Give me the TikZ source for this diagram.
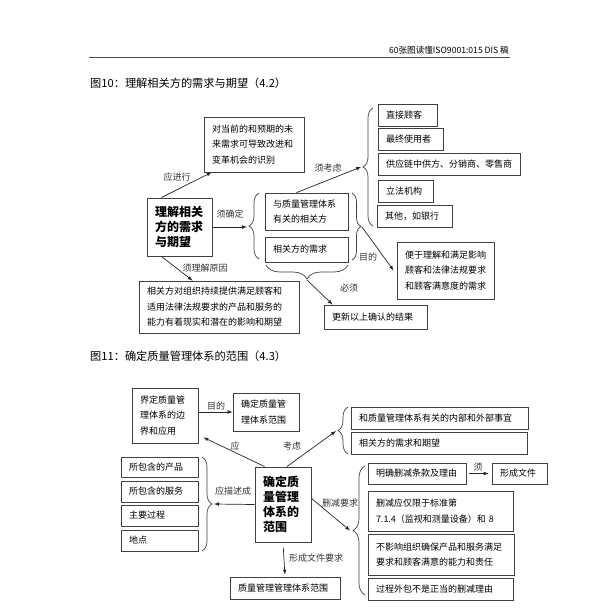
\documentclass[tikz,border=0pt]{standalone}
\usepackage{fontspec}
\setmainfont{Noto Sans CJK SC}
\usetikzlibrary{decorations.pathreplacing}

\tikzset{
  box/.style={draw=black!75, line width=0.8pt, inner xsep=8pt, inner ysep=0pt,
    align=left, font=\fontsize{9}{15.5}\selectfont},
  hub/.style={box, line width=1pt, font=\fontsize{12}{15}\selectfont\bfseries},
  lbl/.style={inner sep=0pt, font=\fontsize{9}{11}\selectfont, text=black!80},
  arr/.style={-latex, line width=0.7pt, draw=black!85},
  brc/.style={decorate, decoration={brace, amplitude=#1}, line width=0.7pt, draw=black!75},
  brc/.default=8pt,
}

\begin{document}
\begin{tikzpicture}[x=1pt, y=-1pt]
  \useasboundingbox (0,0) rectangle (600,616);

  % page head
  \node[anchor=base east, inner sep=0pt, font=\fontsize{8.6}{9}\selectfont] (head) at (509,53) {60张图读懂ISO9001:015 DIS 稿};
  \draw[line width=0.8pt, black!70] (89,57) -- (510,57);

  % figure 10
  \node[anchor=base west, inner sep=0pt, font=\fontsize{11.2}{12}\selectfont] (title10) at (90,87) {图10：理解相关方的需求与期望（4.2）};

  \node[hub, text width=49pt, minimum height=58pt] (center10) at (179.5,227) {理解相关\\方的需求\\与期望};
  \node[box, text width=84pt, minimum height=55pt] (need) at (254,144.5) {对当前的和预期的未\\来需求可导致改进和\\变革机会的识别};
  \node[box, text width=67pt, minimum height=37pt] (party) at (306.5,211.5) {与质量管理体系\\有关的相关方};
  \node[box, text width=67pt, minimum height=25pt] (needs) at (306.5,249.5) {相关方的需求};
  \node[box, text width=81pt, minimum height=57pt] (purpose) at (445.5,270.5) {便于理解和满足影响\\顾客和法律法规要求\\和顾客满意度的需求};
  \node[box, text width=87pt, minimum height=24pt] (update) at (375.5,317) {更新以上确认的结果};
  \node[box, text width=144pt, minimum height=52pt] (reason) at (219,307) {相关方对组织持续提供满足顾客和\\适用法律法规要求的产品和服务的\\能力有着现实和潜在的影响和期望};

  \node[box, text width=43pt, minimum height=22pt] (c1) at (407.5,115) {直接顾客};
  \node[box, text width=49pt, minimum height=22pt] (c2) at (410.5,139) {最终使用者};
  \node[box, text width=126pt, minimum height=22pt] (c3) at (449,164) {供应链中供方、分销商、零售商};
  \node[box, text width=39pt, minimum height=22pt] (c4) at (405.5,191) {立法机构};
  \node[box, text width=59pt, minimum height=22pt] (c5) at (414.5,216) {其他，如银行};

  \draw[brc=10pt] (259,259) -- (259,193);
  \coordinate (t1) at (247,227);
  \draw[brc=9pt] (352,193) -- (352,260);
  \coordinate (t2) at (362,227);
  \draw[brc=14pt] (348,265) -- (266,265);
  \coordinate (t3) at (307,280);
  \draw[brc=10pt] (373,226) -- (373,108);
  \coordinate (t4) at (361,167);

  \draw[arr] ([xshift=15pt]center10.north west) -- ([xshift=8pt]need.south west);
  \node[lbl] (l1) at (177,177) {应进行};
  \draw[arr] (center10.east) -- (t1);
  \node[lbl] (l2) at (230,214) {须确定};
  \draw[arr] ([xshift=-10pt]party.north) -- (t4);
  \node[lbl] (l3) at (328,168) {须考虑};
  \draw[arr] (t2) -- ([xshift=-3pt]purpose.west);
  \node[lbl] (l4) at (368,257) {目的};
  \draw[arr] (t3) -- ([xshift=9pt]update.north west);
  \node[lbl] (l5) at (349,288) {必须};
  \draw[arr] ([xshift=15pt]center10.south west) -- ([xshift=54pt]reason.north west);
  \node[lbl] (l6) at (205,268) {须理解原因};

  % figure 11
  \node[anchor=base west, inner sep=0pt, font=\fontsize{11.2}{12}\selectfont] (title11) at (90,360) {图11：确定质量管理体系的范围（4.3）};

  \node[hub, text width=40pt, minimum height=75pt] (center11) at (283,504.5) {确定质\\量管理\\体系的\\范围};
  \node[box, text width=50pt, minimum height=55pt] (bound) at (165,415.5) {界定质量管\\理体系的边\\界和应用};
  \node[box, text width=50pt, minimum height=38pt] (scopebox) at (266,412) {确定质量管\\理体系范围};
  \node[box, text width=161pt, minimum height=22pt] (ext1) at (439.5,418) {和质量管理体系有关的内部和外部事宜};
  \node[box, text width=160pt, minimum height=22pt] (ext2) at (439,443) {相关方的需求和期望};

  \node[box, text width=61pt, minimum height=20pt] (p1) at (159.5,467) {所包含的产品};
  \node[box, text width=61pt, minimum height=21pt] (p2) at (159.5,491.5) {所包含的服务};
  \node[box, text width=61pt, minimum height=21pt] (p3) at (159.5,515.5) {主要过程};
  \node[box, text width=61pt, minimum height=21pt] (p4) at (159.5,540.5) {地点};

  \node[box, text width=94pt, minimum height=22pt] (doc) at (285,588) {质量管理管理体系范围};

  \node[box, text width=82pt, minimum height=21pt] (e1) at (417,473.5) {明确删减条款及理由};
  \node[box, text width=39pt, minimum height=21pt] (fdoc) at (519.5,473.5) {形成文件};
  \node[box, text width=129pt, minimum height=40pt] (e2) at (440.5,511) {删减应仅限于标准第\\7.1.4（监视和测量设备）和 8};
  \node[box, text width=130pt, minimum height=41pt] (e3) at (441,554.5) {不影响组织确保产品和服务满足\\要求和顾客满意的能力和责任};
  \node[box, text width=129pt, minimum height=22pt] (e4) at (440.5,589) {过程外包不是正当的删减理由};

  \draw[brc=10pt] (348,454) -- (348,407);
  \coordinate (t5) at (336,431);
  \draw[brc=10pt] (202,457) -- (202,551);
  \coordinate (t6) at (214,504);
  \draw[brc=12pt] (365,595) -- (365,466);
  \coordinate (t7) at (350,530.5);

  \draw[arr] (bound.east |- scopebox.west) -- (scopebox.west);
  \node[lbl] (m1) at (216,406) {目的};
  \draw[arr] ([xshift=10pt]center11.north west) -- ([xshift=5pt,yshift=6pt]bound.south east);
  \node[lbl] (m2) at (235,446) {应};
  \draw[arr] ([xshift=4pt]center11.north) -- (t5);
  \node[lbl] (m3) at (292,446) {考虑};
  \draw[arr] (center11.west) -- (t6);
  \node[lbl] (m4) at (233,491) {应描述成};
  \draw[arr, shorten <=5pt, shorten >=2pt] (center11.south) -- (doc.north);
  \node[lbl, anchor=west] (m5) at (289,558) {形成文件要求};
  \draw[arr] ([yshift=6pt]center11.east) -- (t7);
  \node[lbl] (m6) at (340,503) {删减要求};
  \draw[arr, shorten <=3pt, shorten >=3pt] (e1.east) -- (fdoc.west);
  \node[lbl] (m7) at (478,467) {须};
\end{tikzpicture}
\end{document}
